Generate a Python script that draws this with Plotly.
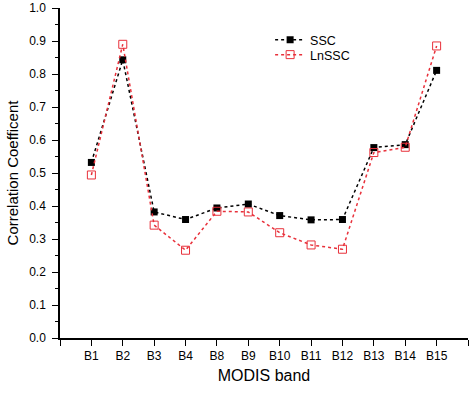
import plotly.graph_objects as go

bands = ["B1", "B2", "B3", "B4", "B8", "B9", "B10", "B11", "B12", "B13", "B14", "B15"]
ssc = [0.532, 0.843, 0.382, 0.359, 0.394, 0.406, 0.371, 0.358, 0.359, 0.577, 0.586, 0.811]
lnssc = [0.494, 0.890, 0.342, 0.266, 0.384, 0.382, 0.319, 0.282, 0.269, 0.562, 0.578, 0.885]
yticks = [0.0, 0.1, 0.2, 0.3, 0.4, 0.5, 0.6, 0.7, 0.8, 0.9, 1.0]

xpos = list(range(1, len(bands) + 1))

fig = go.Figure()
fig.add_trace(go.Scatter(
    x=xpos, y=ssc, name="SSC", mode="lines+markers", legend="legend",
    line=dict(color="black", width=1.5, dash="dot"),
    marker=dict(symbol="square", size=7, color="black"),
))
fig.add_trace(go.Scatter(
    x=xpos, y=lnssc, name="LnSSC", mode="lines+markers", legend="legend2",
    line=dict(color="#e8303a", width=1.5, dash="dot"),
    marker=dict(symbol="square-open", size=8, color="#e8303a", line=dict(width=1)),
))

font_family = "Liberation Sans, Arial, sans-serif"
leg_common = dict(xanchor="left", yanchor="top", bgcolor="rgba(0,0,0,0)",
                  font=dict(size=12.5, family=font_family), itemwidth=30)
fig.update_layout(
    width=474, height=397,
    margin=dict(l=60, r=6, t=8, b=59, autoexpand=False),
    plot_bgcolor="white", paper_bgcolor="white",
    font=dict(family=font_family, size=12, color="black"),
    showlegend=True,
    legend=dict(x=0.515, y=0.948, **leg_common),
    legend2=dict(x=0.515, y=0.903, **leg_common),
    xaxis=dict(
        range=[0, len(bands) + 1],
        tickmode="array",
        tickvals=[0] + xpos + [len(bands) + 1],
        ticktext=[""] + bands + [""],
        ticks="outside", ticklen=6, tickwidth=1.2, tickcolor="black",
        showline=True, linecolor="black", linewidth=1.5,
        showgrid=False, zeroline=False, automargin=False,
        title=dict(text="MODIS band", font=dict(size=16), standoff=8),
        tickfont=dict(size=12),
    ),
    yaxis=dict(
        range=[0, 1.0],
        tickmode="array",
        tickvals=yticks,
        ticktext=["%.1f" % v for v in yticks],
        ticks="outside", ticklen=6, tickwidth=1.2, tickcolor="black",
        ticklabelstandoff=4, ticklabeloverflow="allow",
        minor=dict(dtick=0.05, ticks="outside", ticklen=3, tickcolor="black", tickwidth=1, showgrid=False),
        showline=True, linecolor="black", linewidth=1.5,
        showgrid=False, zeroline=False, automargin=False,
        title=dict(text="Correlation Coefficent", font=dict(size=15), standoff=7),
        tickfont=dict(size=12),
    ),
)

fig.write_html("out.html", config={"displayModeBar": False},
               post_script="document.body.style.margin='0';")
